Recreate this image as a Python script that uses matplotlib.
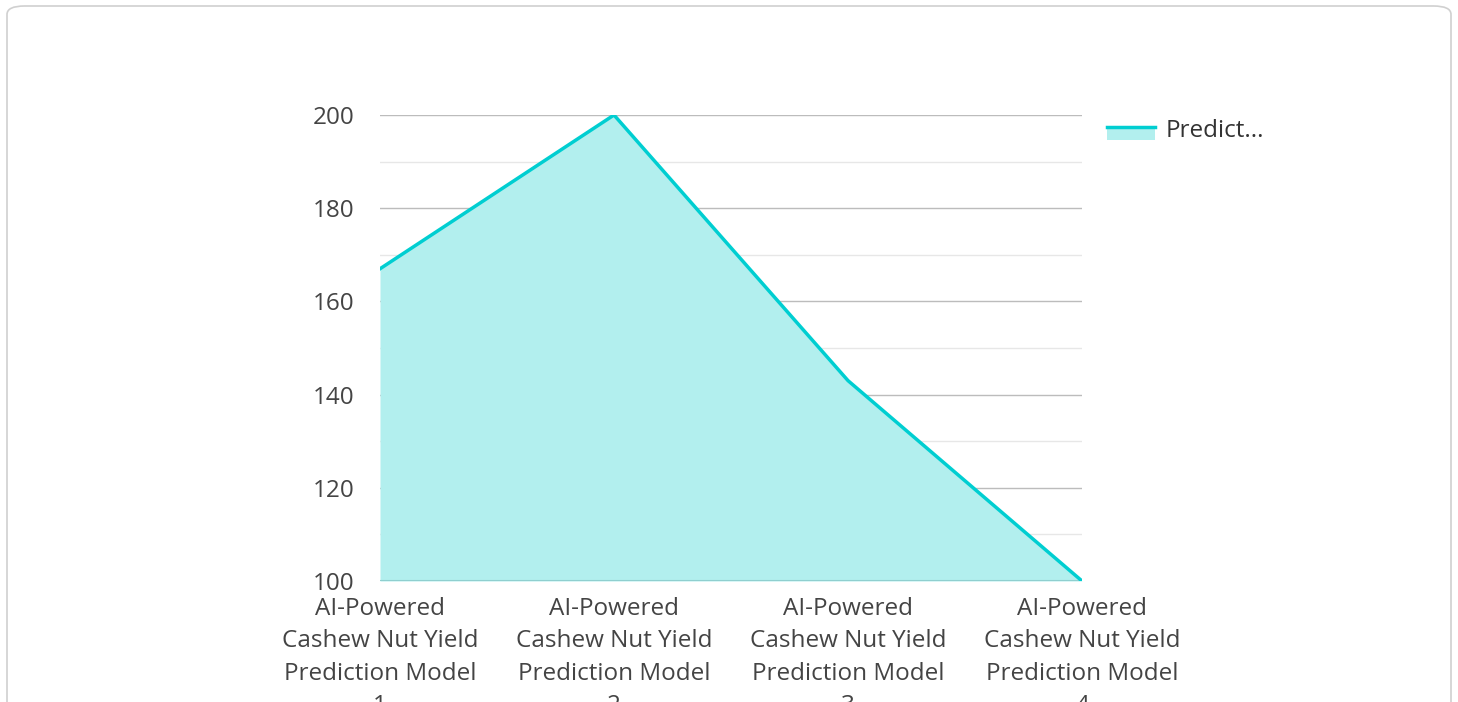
import matplotlib.pyplot as plt
from matplotlib.patches import FancyBboxPatch, Rectangle
from matplotlib.lines import Line2D
import numpy as np

plt.rcParams['font.family'] = ['Open Sans', 'DejaVu Sans']

# Data
models = ["AI-Powered\nCashew Nut Yield\nPrediction Model\n1",
          "AI-Powered\nCashew Nut Yield\nPrediction Model\n2",
          "AI-Powered\nCashew Nut Yield\nPrediction Model\n3",
          "AI-Powered\nCashew Nut Yield\nPrediction Model\n4"]
predicted_yield = [167, 200, 143, 100]
y_ticks = [100, 120, 140, 160, 180, 200]

line_color = '#00CED1'
fill_color = '#b2efee'
font_size = 17.5


# legend handle: fill block with the line on its top edge
class AreaHandler:
    def legend_artist(self, legend, orig_handle, fontsize, handlebox):
        x0, y0 = handlebox.xdescent, handlebox.ydescent
        w, h = handlebox.width, handlebox.height
        rect = Rectangle((x0, y0 - 0.2 * h), w, 0.85 * h, facecolor=fill_color,
                         edgecolor='none', transform=handlebox.get_transform())
        line = Line2D([x0, x0 + w], [y0 + 0.6 * h, y0 + 0.6 * h], color=line_color,
                      linewidth=2.5, transform=handlebox.get_transform())
        handlebox.add_artist(rect)
        handlebox.add_artist(line)
        return rect


fig = plt.figure(figsize=(14.58, 7.02), dpi=100)

# card border
card = FancyBboxPatch((7 / 1458, -0.05), 1444 / 1458, 1.0 - 6 / 702 + 0.05,
                      boxstyle="round,pad=0,rounding_size=0.012",
                      transform=fig.transFigure, facecolor='white',
                      edgecolor='#d0d0d0', linewidth=1.2, zorder=-10)
fig.patches.append(card)

ax = fig.add_axes([380 / 1458, 1 - 581 / 702, 702 / 1458, 466 / 702])
ax.set_facecolor('none')

x = np.arange(len(models))
ax.fill_between(x, 100, predicted_yield, color=fill_color, zorder=2, linewidth=0)
ax.plot(x, predicted_yield, color=line_color, linewidth=2.5, zorder=3)

ax.set_xlim(0, len(models) - 1)
ax.set_ylim(100, 200)
ax.set_yticks(y_ticks)
ax.set_yticks(np.arange(110, 200, 20), minor=True)
ax.set_xticks(x)
ax.set_xticklabels(models, linespacing=1.46)
ax.grid(True, which='major', axis='y', color='#7a7a7a', alpha=0.5, linewidth=1, zorder=2.2)
ax.grid(True, which='minor', axis='y', color='#a0a0a0', alpha=0.25, linewidth=1, zorder=2.2)
ax.tick_params(axis='both', which='both', length=0, labelsize=font_size, colors='#444444')
ax.tick_params(axis='y', pad=18.5)
ax.tick_params(axis='x', pad=11.5)
ax.axhline(100, color='#8fcfcf', linewidth=1.5, zorder=2.5)
for s in ax.spines.values():
    s.set_visible(False)

leg = fig.legend(['area'], ['Predict...'], loc='upper left',
                 bbox_to_anchor=(1085 / 1458, 1 - 97 / 702), frameon=False,
                 fontsize=font_size, handlelength=2.0, handletextpad=0.4,
                 handler_map={str: AreaHandler()})
for t in leg.get_texts():
    t.set_color('#333333')

fig.savefig('out.png', dpi=100)
